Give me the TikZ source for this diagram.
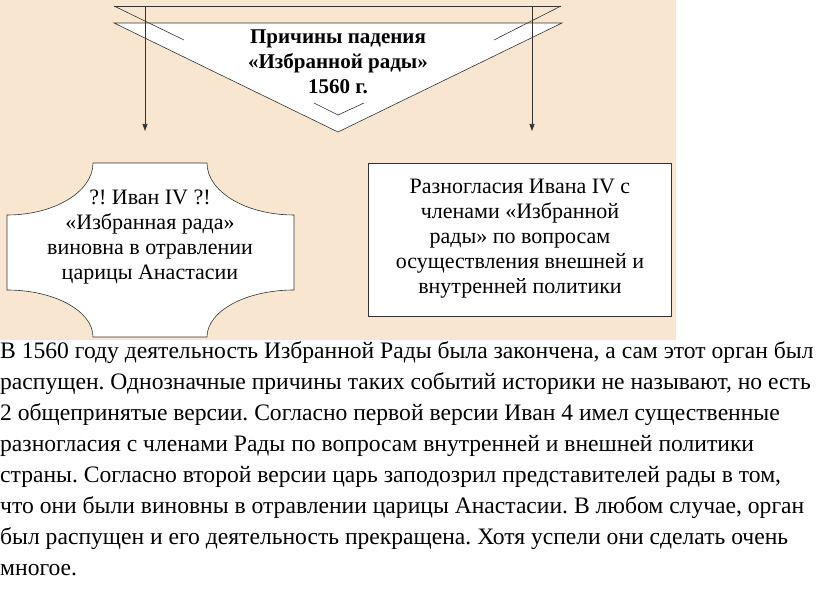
\documentclass[tikz,border=0pt]{standalone}
\usepackage{fontspec}
\setmainfont{Liberation Serif}
\usetikzlibrary{arrows.meta}
\definecolor{beige}{HTML}{F8E6D0}
\frenchspacing

\begin{document}
\begin{tikzpicture}[x=1pt, y=-1pt,
                    line/.style={draw=black!80, line width=0.6pt},
                    boxtext/.style={align=center, font=\fontsize{22}{25}\selectfont},
                    arrow/.style={line, -{Triangle[length=7pt, width=5pt]}}]
  \useasboundingbox (0,0) rectangle (816,609);
  \fill[beige] (0,0) rectangle (676,340);
  % triangle
  \filldraw[line, fill=white] (114,23) -- (562,23) -- (338,132) -- cycle;
  \draw[line] (114,6) -- (561,6);
  \draw[line] (114,6) -- (184,40);
  \draw[line] (561,6) -- (494,40);
  \draw[line] (314,103) -- (338,115) -- (364,103);
  \node[boxtext, font=\fontsize{21}{25}\selectfont\bfseries] (title) at (338,62)
    {Причины падения\\«Избранной рады»\\1560 г.};
  % arrows
  \coordinate (ltop) at (145,6);
  \coordinate (lend) at (145,131);
  \coordinate (rtop) at (532,6);
  \coordinate (rend) at (532,131);
  \draw[arrow] (ltop) -- (lend);
  \draw[arrow] (rtop) -- (rend);
  % left box
  \filldraw[line, fill=white] (93,163) -- (207,163)
    arc[start angle=180, end angle=270, x radius=87pt, y radius=52pt]
    -- (294,290)
    arc[start angle=90, end angle=180, x radius=87pt, y radius=47pt]
    -- (93,337)
    arc[start angle=0, end angle=90, x radius=86pt, y radius=47pt]
    -- (7,215)
    arc[start angle=270, end angle=360, x radius=86pt, y radius=52pt];
  \node[boxtext] (guilt) at (150,237)
    {?! Иван IV ?!\\«Избранная рада»\\виновна в отравлении\\царицы Анастасии};
  % right box
  \filldraw[line, fill=white] (368,163) rectangle (671,316);
  \node[boxtext] (dispute) at (520,239)
    {Разногласия Ивана IV с\\членами «Избранной\\рады» по вопросам\\осуществления внешней и\\внутренней политики};
  % text
  \node[anchor=north west, inner sep=0pt, align=left,
        font=\fontsize{23.6}{31}\selectfont] (story) at (0,341)
    {В 1560 году деятельность Избранной Рады была закончена, а сам этот орган был\\
     распущен. Однозначные причины таких событий историки не называют, но есть\\
     2 общепринятые версии. Согласно первой версии Иван 4 имел существенные\\
     разногласия с членами Рады по вопросам внутренней и внешней политики\\
     страны. Согласно второй версии царь заподозрил представителей рады в том,\\
     что они были виновны в отравлении царицы Анастасии. В любом случае, орган\\
     был распущен и его деятельность прекращена. Хотя успели они сделать очень\\
     многое.};
\end{tikzpicture}
\end{document}
